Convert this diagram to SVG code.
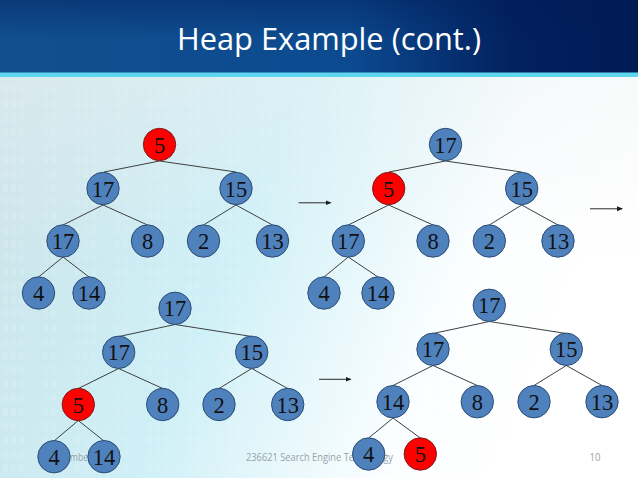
<svg xmlns="http://www.w3.org/2000/svg" width="638" height="478" viewBox="0 0 638 478">
<defs>
<linearGradient id="hdr" x1="0" y1="0" x2="1" y2="0"><stop offset="0" stop-color="#124f8f"/><stop offset="0.55" stop-color="#0c4a90"/><stop offset="0.8" stop-color="#02215f"/><stop offset="1" stop-color="#001a55"/></linearGradient>
<linearGradient id="hdrv" x1="0" y1="0" x2="0" y2="1"><stop offset="0" stop-color="#001a55" stop-opacity="0.4"/><stop offset="0.55" stop-color="#001a55" stop-opacity="0"/></linearGradient>
<linearGradient id="bg" x1="0" y1="0" x2="1" y2="0.3"><stop offset="0" stop-color="#cbe1e7"/><stop offset="0.48" stop-color="#cff0f7"/><stop offset="0.82" stop-color="#fbfeff"/><stop offset="1" stop-color="#ffffff"/></linearGradient>
<linearGradient id="haze" x1="0" y1="0" x2="0" y2="1"><stop offset="0" stop-color="#eef2f3" stop-opacity="0.55"/><stop offset="0.55" stop-color="#eef2f3" stop-opacity="0"/></linearGradient>
<linearGradient id="fade" x1="0" y1="0" x2="1" y2="0"><stop offset="0" stop-color="#fff"/><stop offset="0.6" stop-color="#fff" stop-opacity="0.8"/><stop offset="0.85" stop-color="#fff" stop-opacity="0"/></linearGradient>
<pattern id="digits" width="72" height="14" patternUnits="userSpaceOnUse">
<rect x="3" y="2" width="5" height="8" fill="#e9f8fb"/><rect x="11" y="2" width="5" height="8" fill="#e9f8fb"/><rect x="19" y="2" width="5" height="8" fill="#e9f8fb"/><rect x="43" y="2" width="5" height="8" fill="#e9f8fb"/><rect x="51" y="2" width="5" height="8" fill="#e9f8fb"/>
</pattern>
<mask id="fm"><rect width="638" height="478" fill="url(#fade)"/></mask>
<marker id="ah" markerWidth="7" markerHeight="6" refX="5" refY="3" orient="auto" markerUnits="userSpaceOnUse"><path d="M0,0.500 L6,3 L0,5.500 Z" fill="#1a1a1a"/></marker>
<style>
.n{stroke:#2c4d75;stroke-width:1;fill:#4f81bd}
.r{stroke:#7a1f1f;stroke-width:1;fill:#fe0000}
.t{font-family:"Liberation Serif",serif;font-size:22.500px;fill:#111;text-anchor:middle}
.l{stroke:#3c4040;stroke-width:1;fill:none}
.a{stroke:#2a2a2a;stroke-width:1;fill:none;marker-end:url(#ah)}
.f{font-family:"Open Sans","Liberation Sans",sans-serif;font-size:11px;fill:#98a2a6}
</style>
</defs>
<rect id="background" width="638" height="478" fill="url(#bg)"/>
<rect width="638" height="478" fill="url(#haze)"/>
<rect y="78" width="638" height="400" fill="url(#digits)" opacity="0.16" mask="url(#fm)"/>
<rect id="header" width="638" height="73" fill="url(#hdr)"/>
<rect width="638" height="73" fill="url(#hdrv)"/>
<rect id="rule" y="72.500" width="638" height="4.500" fill="#5fd6f0"/>
<text x="177" y="49.500" font-family="'Open Sans','Noto Sans',sans-serif" font-size="30.500" fill="#ffffff" textLength="304" lengthAdjust="spacingAndGlyphs">Heap Example (cont.)</text>
<g id="footer">
<text class="f" x="70" y="460.500" textLength="18" lengthAdjust="spacingAndGlyphs">mbe</text>
<text class="f" x="246" y="460.500" textLength="147" lengthAdjust="spacingAndGlyphs">236621 Search Engine Technology</text>
<text class="f" x="589.500" y="460.500" textLength="11" lengthAdjust="spacingAndGlyphs">10</text>
</g>
<g id="connectors">
<path class="l" d="M159.500,161 L104,172 M159.500,161 L236,172 M103,205 L63,225 M103,205 L147.500,225 M236,205 L203.500,225 M236,205 L272.500,225 M63,257 L38.500,277 M63,257 L89,277"/>
<path class="l" d="M445.500,161 L389,172 M445.500,161 L521.500,172 M388.700,205 L348.300,225 M388.700,205 L433,225 M521.700,205 L489.300,225 M521.700,205 L558,225 M348.300,257 L324,277 M348.300,257 L378,277"/>
<path class="l" d="M175,324.500 L119,336.500 M175,324.500 L251.700,336.500 M118.700,368.500 L78.300,388.500 M118.700,368.500 L162.700,388.500 M251.700,368.500 L219,388.500 M251.700,368.500 L287.700,388.500 M78.300,420.500 L54,441 M78.300,420.500 L104,441"/>
<path class="l" d="M489.300,321.500 L433,333.500 M489.300,321.500 L566.300,333.500 M433,365.500 L393,385.500 M433,365.500 L477.300,385.500 M566.300,365.500 L534,385.500 M566.300,365.500 L602,385.500 M393,418 L368.700,438 M393,418 L420.300,438"/>
<path class="a" d="M298.500,202.800 L330.500,202.800"/>
<path class="a" d="M590,208.800 L622,208.800"/>
<path class="a" d="M319,379.300 L350.500,379.300"/>
</g>
<g id="t1-root"><circle class="r" cx="159.500" cy="144.500" r="16.200"/><text class="t" x="159.500" y="152.500">5</text></g>
<g id="t1-a"><circle class="n" cx="103" cy="188.500" r="16.200"/><text class="t" x="103" y="196.500">17</text></g>
<g id="t1-b"><circle class="n" cx="236" cy="188.500" r="16.200"/><text class="t" x="236" y="196.500">15</text></g>
<g id="t1-c"><circle class="n" cx="63" cy="241" r="16.200"/><text class="t" x="63" y="249">17</text></g>
<g id="t1-d"><circle class="n" cx="147.500" cy="241" r="16.200"/><text class="t" x="147.500" y="249">8</text></g>
<g id="t1-e"><circle class="n" cx="203.500" cy="241" r="16.200"/><text class="t" x="203.500" y="249">2</text></g>
<g id="t1-f"><circle class="n" cx="272.500" cy="241" r="16.200"/><text class="t" x="272.500" y="249">13</text></g>
<g id="t1-g"><circle class="n" cx="38.500" cy="293" r="16.200"/><text class="t" x="38.500" y="301">4</text></g>
<g id="t1-h"><circle class="n" cx="89" cy="293" r="16.200"/><text class="t" x="89" y="301">14</text></g>
<g id="t2-root"><circle class="n" cx="445.500" cy="144.500" r="16.200"/><text class="t" x="445.500" y="152.500">17</text></g>
<g id="t2-a"><circle class="r" cx="388.700" cy="188.500" r="16.200"/><text class="t" x="388.700" y="196.500">5</text></g>
<g id="t2-b"><circle class="n" cx="521.700" cy="188.500" r="16.200"/><text class="t" x="521.700" y="196.500">15</text></g>
<g id="t2-c"><circle class="n" cx="348.300" cy="241" r="16.200"/><text class="t" x="348.300" y="249">17</text></g>
<g id="t2-d"><circle class="n" cx="433" cy="241" r="16.200"/><text class="t" x="433" y="249">8</text></g>
<g id="t2-e"><circle class="n" cx="489.300" cy="241" r="16.200"/><text class="t" x="489.300" y="249">2</text></g>
<g id="t2-f"><circle class="n" cx="558" cy="241" r="16.200"/><text class="t" x="558" y="249">13</text></g>
<g id="t2-g"><circle class="n" cx="324" cy="293" r="16.200"/><text class="t" x="324" y="301">4</text></g>
<g id="t2-h"><circle class="n" cx="378" cy="293" r="16.200"/><text class="t" x="378" y="301">14</text></g>
<g id="t3-root"><circle class="n" cx="175" cy="308.300" r="16.200"/><text class="t" x="175" y="316.300">17</text></g>
<g id="t3-a"><circle class="n" cx="118.700" cy="352.300" r="16.200"/><text class="t" x="118.700" y="360.300">17</text></g>
<g id="t3-b"><circle class="n" cx="251.700" cy="352.300" r="16.200"/><text class="t" x="251.700" y="360.300">15</text></g>
<g id="t3-c"><circle class="r" cx="78.300" cy="404.500" r="16.200"/><text class="t" x="78.300" y="412.500">5</text></g>
<g id="t3-d"><circle class="n" cx="162.700" cy="404.500" r="16.200"/><text class="t" x="162.700" y="412.500">8</text></g>
<g id="t3-e"><circle class="n" cx="219" cy="404.500" r="16.200"/><text class="t" x="219" y="412.500">2</text></g>
<g id="t3-f"><circle class="n" cx="287.700" cy="404.500" r="16.200"/><text class="t" x="287.700" y="412.500">13</text></g>
<g id="t3-g"><circle class="n" cx="54" cy="456.700" r="16.200"/><text class="t" x="54" y="464.700">4</text></g>
<g id="t3-h"><circle class="n" cx="104" cy="456.700" r="16.200"/><text class="t" x="104" y="464.700">14</text></g>
<g id="t4-root"><circle class="n" cx="489.300" cy="305.300" r="16.200"/><text class="t" x="489.300" y="313.300">17</text></g>
<g id="t4-a"><circle class="n" cx="433" cy="349.300" r="16.200"/><text class="t" x="433" y="357.300">17</text></g>
<g id="t4-b"><circle class="n" cx="566.300" cy="349.300" r="16.200"/><text class="t" x="566.300" y="357.300">15</text></g>
<g id="t4-c"><circle class="n" cx="393" cy="401.700" r="16.200"/><text class="t" x="393" y="409.700">14</text></g>
<g id="t4-d"><circle class="n" cx="477.300" cy="401.700" r="16.200"/><text class="t" x="477.300" y="409.700">8</text></g>
<g id="t4-e"><circle class="n" cx="534" cy="401.700" r="16.200"/><text class="t" x="534" y="409.700">2</text></g>
<g id="t4-f"><circle class="n" cx="602" cy="401.700" r="16.200"/><text class="t" x="602" y="409.700">13</text></g>
<g id="t4-g"><circle class="n" cx="368.700" cy="454" r="16.200"/><text class="t" x="368.700" y="462">4</text></g>
<g id="t4-h"><circle class="r" cx="420.300" cy="454" r="16.200"/><text class="t" x="420.300" y="462">5</text></g>
</svg>
